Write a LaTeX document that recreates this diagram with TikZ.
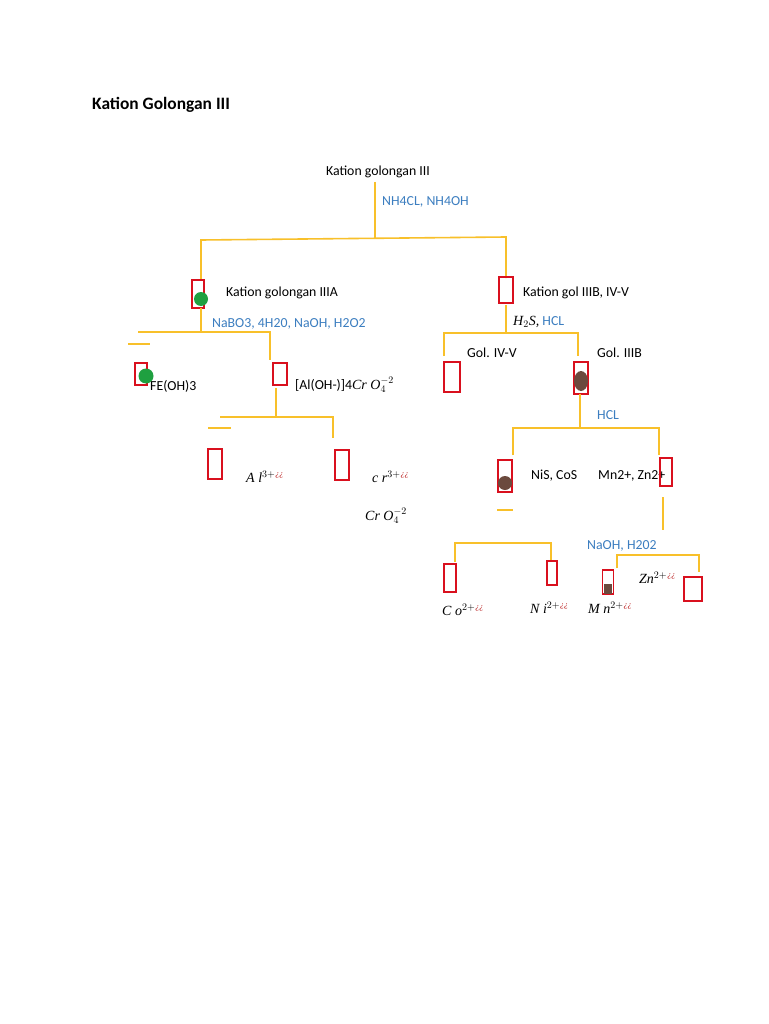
\documentclass[tikz,border=0pt]{standalone}
\usepackage{fontspec}
\setmainfont{Carlito}
\newfontfamily\mathser{Liberation Serif}
\definecolor{ly}{HTML}{F8C02A}
\definecolor{bu}{HTML}{3C7EC0}
\definecolor{rb}{HTML}{D9101E}
\definecolor{br}{HTML}{6B4A3E}
\definecolor{gr}{HTML}{1FA040}
\newcommand\qqmark{\raisebox{6pt}{\textcolor{red!70!black}{\fontsize{8}{8}\selectfont ¿¿}}}
\begin{document}
\begin{tikzpicture}[x=1pt,y=-1pt,
  ln/.style={draw=ly, line width=1.6pt},
  bx/.style={draw=rb, line width=1.8pt, minimum width=12pt, minimum height=24pt, inner sep=0pt},
  lb/.style={font=\fontsize{13.8}{14}\selectfont, anchor=west, inner sep=0pt},
  bl/.style={lb, text=bu},
  mt/.style={font=\mathser\itshape\fontsize{14}{15}\selectfont, anchor=west, inner sep=0pt},
  blobg/.style={fill=gr},
  blobb/.style={fill=br}]
\fill[white] (0,0) rectangle (768,1024);
\node[font=\bfseries\fontsize{17.4}{18}\selectfont, anchor=west, inner sep=0pt] (title) at (92,105) {Kation Golongan III};
\node[lb, anchor=center] (root) at (378,172) {Kation golongan III};
\node[bl] (r1) at (382,202) {NH4CL, NH4OH};
\coordinate (t0) at (375,182); \coordinate (t1) at (375,238);
\draw[ln] (t0) -- (t1);
\draw[ln] (201,280) -- (201,240) -- (506,237) -- (506,278);
% left branch
\node[bx, minimum height=28pt] (bA) at (198,294) {};
\fill[blobg] (201,299) circle (7pt);
\node[lb] (kA) at (226,293) {Kation golongan IIIA};
\node[bl] (rA) at (212,324) {NaBO3, 4H20, NaOH, H2O2};
\draw[ln] (201,308) -- (201,332);
\draw[ln] (138,332) -- (270,332) -- (270,360);
\draw[ln] (128,344) -- (150,344);
\node[bx, minimum height=22pt] (bFe) at (141,374) {};
\fill[blobg] (146,376) circle (7.5pt);
\node[lb] (fe) at (150,386) {FE(OH)3};
\node[bx, minimum width=14pt, minimum height=22pt] (bAl) at (280,374) {};
\node[lb] (alo) at (295,385) {[Al(OH-)]4{\mathser\itshape\fontsize{14}{15}\selectfont Cr O$^{-2}_{4}$}};
\draw[ln] (276,388) -- (276,417);
\draw[ln] (220,417) -- (333,417) -- (333,438);
\draw[ln] (208,428) -- (231,428);
\node[bx, minimum width=14pt, minimum height=30pt] (bAl3) at (215,464) {};
\node[bx, minimum width=14pt, minimum height=30pt] (bCr3) at (342,465) {};
\node[mt] (al3) at (246,477) {A l$^{3+}$\qqmark};
\node[mt] (cr3) at (372,477) {c r$^{3+}$\qqmark};
\node[mt] (cro) at (365,516) {Cr O$^{-2}_{4}$};
% right branch
\node[bx, minimum width=14pt, minimum height=26pt] (bB) at (506,290) {};
\node[lb] (kB) at (523,293) {Kation gol IIIB, IV-V};
\draw[ln] (506,305) -- (506,332);
\node[lb] (h2s) at (513,322) {{\mathser\itshape\fontsize{14}{15}\selectfont H$_2$S,} \textcolor{bu}{HCL}};
\draw[ln] (444,356) -- (444,333) -- (578,333) -- (578,356);
\node[lb] (g45) at (467,353) {Gol. IV-V};
\node[lb] (g3b) at (597,353) {Gol. IIIB};
\node[bx, minimum width=16pt, minimum height=30pt] (b45) at (452,377) {};
\node[bx, minimum width=14pt, minimum height=32pt] (b3b) at (581,378) {};
\fill[blobb] (581,381) ellipse (7pt and 10pt);
\draw[ln] (580,394) -- (580,427);
\node[bl] (hcl) at (597,415) {HCL};
\draw[ln] (513,455) -- (513,428) -- (659,428) -- (659,455);
\node[bx, minimum width=14pt, minimum height=32pt] (bNi) at (505,476) {};
\fill[blobb] (505,483) circle (7pt);
\node[lb] (nis) at (531,476) {NiS, CoS};
\node[lb] (mnz) at (598,476) {Mn2+, Zn2+};
\node[bx, minimum width=12pt, minimum height=28pt] (bMZ) at (666,472) {};
\draw[ln] (497,510) -- (513,510);
\draw[ln] (663,497) -- (663,530);
\node[bl] (na2) at (587,546) {NaOH, H202};
\draw[ln] (455,562) -- (455,543) -- (551,543) -- (551,562);
\draw[ln] (617,568) -- (617,555) -- (699,555) -- (699,572);
\node[bx, minimum width=12pt, minimum height=28pt] (bCo) at (450,578) {};
\node[bx, minimum width=10pt, minimum height=24pt] (bNi2) at (552,573) {};
\node[bx, minimum width=11pt, minimum height=24pt] (bMn) at (608,582) {};
\fill[blobb] (604,584) rectangle (612,594);
\node[bx, minimum width=18pt, minimum height=24pt] (bZn) at (693,589) {};
\node[mt] (co) at (442,610) {C o$^{2+}$\qqmark};
\node[mt] (ni) at (530,608) {N i$^{2+}$\qqmark};
\node[mt] (mn) at (588,608) {M n$^{2+}$\qqmark};
\node[mt] (zn) at (639,578) {Zn$^{2+}$\qqmark};
\end{tikzpicture}
\end{document}
